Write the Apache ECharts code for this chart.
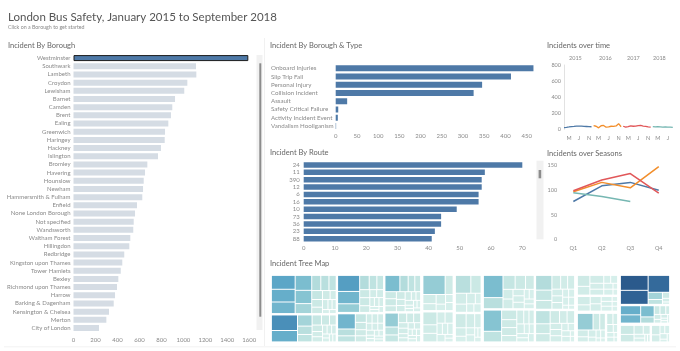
<!DOCTYPE html>
<html><head><meta charset="utf-8">
<script src="https://cdn.jsdelivr.net/npm/echarts@6/dist/echarts.min.js"></script>
<style>html,body{margin:0;padding:0;background:#fff}#c{width:680px;height:351px}</style>
</head><body><div id="c"></div>
<script>
// ---------- DATA ----------
const selectedBorough = 'Westminster';
const boroughs = ['Westminster','Southwark','Lambeth','Croydon','Lewisham','Barnet','Camden','Brent','Ealing','Greenwich','Haringey','Hackney','Islington','Bromley','Havering','Hounslow','Newham','Hammersmith & Fulham','Enfield','None London Borough','Not specified','Wandsworth','Waltham Forest','Hillingdon','Redbridge','Kingston upon Thames','Tower Hamlets','Bexley','Richmond upon Thames','Harrow','Barking & Dagenham','Kensington & Chelsea','Merton','City of London'];
const boroughIncidents = [1591,1115,1118,1036,1008,924,899,887,863,833,830,796,769,672,651,639,633,626,578,560,548,544,517,508,462,444,430,408,396,378,366,323,299,232];

const incidentTypes = ['Onboard Injuries','Slip Trip Fall','Personal Injury','Collision Incident','Assault','Safety Critical Failure','Activity Incident Event','Vandalism Hooliganism'];
const typeIncidents = [466,413,345,325,27,6,5,1];

const routes = ['24','11','390','12','6','16','10','73','36','23','88'];
const routeIncidents = [70,58,57,57,56,56,49,44,44,42,41];

const years = ['2015','2016','2017','2018'];
const monthNames = ['January','February','March','April','May','June','July','August','September','October','November','December'];
const monthly2015 = [22,25,29,34,36,39,40,39,37,35,33,32];
const monthly2016 = [45,38,18,44,48,26,30,38,37,42,70,32];
const monthly2017 = [38,27,34,44,38,39,46,48,40,36,30,28];
const monthly2018 = [33,30,32,30,28,29,27,26,24];

const quarters = ['Q1','Q2','Q3','Q4'];
const seasons2015 = [77,109,116,100];
const seasons2016 = [97,116,105,148];
const seasons2017 = [99,121,134,94];
const seasons2018 = [95,87,77];

// tree map: groups -> sub-groups -> leaf counts
const treeGroup1 = [
  [24,22,20,18,16,12,10,9,8,7,6,5,5,4,4,3,3,2,2],
  [26,20,14,10,8,7,6,6,5,4,4,3,3,3,2,2,2],
  [30,22,12,9,8,7,6,5,5,4,4,3,3,3,2,2,2,2],
  [18,10,8,7,6,6,5,5,4,4,4,3,3,3,2,2,2,2,2],
  [20,9,8,7,6,5,5,4,4,4,3,3,3,3,2,2,2,2,2,2],
  [14,8,7,6,5,5,4,4,3,3,3,3,2,2,2,2,2,2]
];
const treeGroup2 = [[14,5,4,3,3,2,2,2],[6,4,4,3,3,2,2,2,2,1,1]];
const treeGroup3 = [[9,6,4,3,3,2,2,2],[5,4,3,3,2,2,2,1,1,1]];
const treeGroup4 = [
  [16,8,6,5,5,4,4,3,3,3,2,2,2,2,2],
  [10,7,6,5,4,4,3,3,3,2,2,2,2,1,1],
  [18,9,7,6,5,4,4,3,3,3,2,2,2,2],
  [8,6,5,5,4,4,3,3,3,2,2,2,2,1,1]
];
const treeGroup5a = [[5,4,4,3,3,2,2,2,2,1,1],[4,3,3,3,2,2,2,1,1,1]];
const treeGroup5b = [[14,6,5,4,3,3,2,2,2,1,1],[4,3,3,2,2,2,1,1]];
const treeGroup6a = [[48,45,42,12,8,5,3,2],[22,20,18,10,6,6,4,4,3,3,2,2,2]];
const treeGroup6b = [[6,5,4,3,2,2,1,1],[4,3,2,2,2,1,1]];

// ---------- STYLE ----------
const FONT = 'Lato, "Open Sans", sans-serif';
const C15 = '#4e79a7', C16 = '#f28e2b', C17 = '#e15759', C18 = '#76b7b2';
const LBL = {color:'#8a8a8a', fontSize:6, fontFamily:FONT};

function hex(c){return [parseInt(c.slice(1,3),16),parseInt(c.slice(3,5),16),parseInt(c.slice(5,7),16)];}
function mix(a,b,t){const A=hex(a),B=hex(b);return 'rgb('+A.map((x,i)=>Math.round(x+(B[i]-x)*t)).join(',')+')';}
const stops = [[1,'#d9f0ec'],[6,'#cbe9e5'],[10,'#b3dcdc'],[16,'#86c4d2'],[24,'#5ba6c7'],[34,'#3f7fb0'],[48,'#2b5a8c']];
function shade(v){
  for(let i=1;i<stops.length;i++){
    if(v<=stops[i][0]){const t=(v-stops[i-1][0])/(stops[i][0]-stops[i-1][0]);return mix(stops[i-1][1],stops[i][1],Math.max(0,t));}
  }
  return stops[stops.length-1][1];
}
function treeSeries(groups, box){
  return Object.assign({
    type:'treemap', roam:false, nodeClick:false, silent:true,
    breadcrumb:{show:false}, label:{show:false}, upperLabel:{show:false},
    itemStyle:{borderColor:'#fff', borderWidth:0.5, gapWidth:0},
    levels:[
      {itemStyle:{borderColor:'#fff', borderWidth:0, gapWidth:0.6}},
      {itemStyle:{borderColor:'#fff', borderWidth:0.4, gapWidth:0}},
      {itemStyle:{borderColor:'#fff', borderWidth:0.5}}
    ],
    data: groups.map((g,j)=>({name:'g'+j, itemStyle:{color:'#fff'},
      children: g.map((v,i)=>({name:'n'+j+'_'+i, value:v, itemStyle:{color:shade(v)}}))}))
  }, box);
}

const timeGrids = [
  {left:564, top:65, width:27.5, height:64.3},
  {left:593.6, top:65, width:27.5, height:64.3},
  {left:623.2, top:65, width:27.5, height:64.3},
  {left:652.8, top:65, width:20, height:64.3}
];
const timeData = [monthly2015, monthly2016, monthly2017, monthly2018];
const timeColors = [C15, C16, C17, C18];

const grids = [
  {left:73.5, top:54, width:182.4, height:278.1},      // 0 borough
  {left:335.7, top:64.2, width:203.7, height:65.9},    // 1 type
  {left:303.7, top:161.3, width:231.1, height:81.1},   // 2 route
  ...timeGrids,                                        // 3-6
  {left:559.1, top:165.7, width:113.9, height:73.6}    // 7 seasons
];

const xAxes = [
  {gridIndex:0, type:'value', min:0, max:1660, interval:200, splitLine:{show:false}, axisLine:{show:false}, axisTick:{show:false},
   axisLabel:Object.assign({}, LBL, {margin:5, formatter:v=> v%200===0 && v<=1600 ? v : ''})},
  {gridIndex:1, type:'value', min:0, max:480, interval:50, splitLine:{show:false}, axisLine:{show:false}, axisTick:{show:false},
   axisLabel:Object.assign({}, LBL, {margin:3, formatter:v=> v%50===0 && v<=450 ? v : ''})},
  {gridIndex:2, type:'value', min:0, max:74, interval:10, splitLine:{show:false}, axisLine:{show:false}, axisTick:{show:false},
   axisLabel:Object.assign({}, LBL, {margin:3, formatter:v=> v%10===0 && v<=70 ? v : ''})},
  ...timeData.map((d,k)=>({gridIndex:3+k, type:'category', boundaryGap:false, data:monthNames.slice(0,d.length),
   axisLine:{show:false}, axisTick:{show:false}, splitLine:{show:false},
   axisLabel:Object.assign({}, LBL, {fontSize:5.5, margin:6, interval:(i)=> i%4===2, formatter:v=>v[0]})})),
  {gridIndex:7, type:'category', data:quarters, axisLine:{show:false}, axisTick:{show:false},
   axisLabel:Object.assign({}, LBL, {fontSize:5.5, margin:6, interval:0})}
];

const yAxes = [
  {gridIndex:0, type:'category', inverse:true, data:boroughs, axisLine:{show:false}, axisTick:{show:false},
   axisLabel:Object.assign({}, LBL, {margin:3, interval:0})},
  {gridIndex:1, type:'category', inverse:true, data:incidentTypes, axisLine:{show:false}, axisTick:{show:false},
   axisLabel:Object.assign({}, LBL, {margin:64.7, align:'left', fontSize:6.2, interval:0})},
  {gridIndex:2, type:'category', inverse:true, data:routes, axisLine:{show:false}, axisTick:{show:false},
   axisLabel:Object.assign({}, LBL, {margin:4, interval:0})},
  ...timeData.map((d,k)=>({gridIndex:3+k, type:'value', min:0, max:800, interval:200, splitLine:{show:false}, axisTick:{show:false},
   axisLine:{show:k===0, lineStyle:{color:'#e2e2e2', width:1}},
   axisLabel:Object.assign({}, LBL, {show:k===0, fontSize:5.5, margin:3})})),
  {gridIndex:7, type:'value', min:0, max:150, interval:50, splitLine:{show:false}, axisLine:{show:false}, axisTick:{show:false},
   axisLabel:Object.assign({}, LBL, {fontSize:5.5, margin:2})}
];

const series = [
  {type:'bar', xAxisIndex:0, yAxisIndex:0, barWidth:6, silent:true,
   itemStyle:{color:'#d5dce4'},
   data: boroughIncidents.map((v,i)=> boroughs[i]===selectedBorough ? {value:v, itemStyle:{color:'#4e79a7', borderColor:'#1c1c1c', borderWidth:1}} : v)},
  {type:'bar', xAxisIndex:1, yAxisIndex:1, barWidth:6, silent:true, itemStyle:{color:'#4e79a7'}, data:typeIncidents},
  {type:'bar', xAxisIndex:2, yAxisIndex:2, barWidth:5.5, silent:true, itemStyle:{color:'#4e79a7'}, data:routeIncidents},
  ...timeData.map((d,k)=>({type:'line', xAxisIndex:3+k, yAxisIndex:3+k, data:d, showSymbol:false, silent:true,
   lineStyle:{color:timeColors[k], width:1.3}, itemStyle:{color:timeColors[k]}})),
  ...[seasons2015,seasons2016,seasons2017,seasons2018].map((d,k)=>({type:'line', xAxisIndex:7, yAxisIndex:7, data:d, showSymbol:false, silent:true,
   lineStyle:{color:timeColors[k], width:1.5}, itemStyle:{color:timeColors[k]}})),
  treeSeries(treeGroup1, {left:271, top:275, width:150, height:67.3}),
  treeSeries(treeGroup2, {left:422.5, top:275, width:31, height:67.3}),
  treeSeries(treeGroup3, {left:455, top:275, width:26.5, height:67.3}),
  treeSeries(treeGroup4, {left:483, top:275, width:92, height:67.3}),
  treeSeries(treeGroup5a, {left:577, top:275, width:41, height:36.5}),
  treeSeries(treeGroup5b, {left:577, top:313, width:41, height:29.3}),
  treeSeries(treeGroup6a, {left:620, top:275, width:50, height:48.5}),
  treeSeries(treeGroup6b, {left:620, top:325, width:50, height:17.3})
];

const T = (text, left, top, size, color) => ({text, left, top, textStyle:{fontFamily:FONT, fontSize:size, fontWeight:'normal', color, lineHeight:size+2}, padding:0});
const titles = [
  T('London Bus Safety, January 2015 to September 2018', 8, 10.5, 11.5, '#555'),
  T('Click on a Borough to get started', 8, 23.8, 5.3, '#8a8a8a'),
  T('Incident By Borough', 8, 40.5, 7.5, '#666'),
  T('Incident By Borough & Type', 270, 40.5, 7.5, '#666'),
  T('Incidents over time', 547, 40.5, 7.5, '#666'),
  T('Incident By Route', 270, 148.3, 7.5, '#666'),
  T('Incidents over Seasons', 547, 148.8, 7.5, '#666'),
  T('Incident Tree Map', 270, 258.8, 7.5, '#666')
];

const yearCenters = [576, 606, 634, 660];
const graphic = [
  {type:'rect', shape:{x:256.5, y:55, width:6, height:275}, style:{fill:'#f1f1f1'}, silent:true},
  {type:'rect', shape:{x:259.3, y:63.3, width:2, height:253.4}, style:{fill:'#8c8c8c'}, silent:true},
  {type:'rect', shape:{x:536.5, y:160.7, width:7, height:78.6}, style:{fill:'#f1f1f1'}, silent:true},
  {type:'rect', shape:{x:538.6, y:170, width:2.6, height:8.3}, style:{fill:'#8c8c8c'}, silent:true},
  {type:'rect', shape:{x:264, y:38, width:0.8, height:308}, style:{fill:'#eeeeee'}, silent:true},
  {type:'rect', shape:{x:4, y:346.5, width:672, height:0.8}, style:{fill:'#eeeeee'}, silent:true},
  ...years.map((y,k)=>({type:'text', left:yearCenters[k]-7, top:55.5, silent:true,
    style:{text:y, fill:'#8a8a8a', font:'5.5px '+FONT}}))
];

const chart = echarts.init(document.getElementById('c'), null, {renderer:'canvas'});
chart.setOption({
  animation:false, backgroundColor:'#fff',
  textStyle:{fontFamily:FONT},
  title: titles, grid: grids, xAxis: xAxes, yAxis: yAxes, series, graphic
});
</script></body></html>
